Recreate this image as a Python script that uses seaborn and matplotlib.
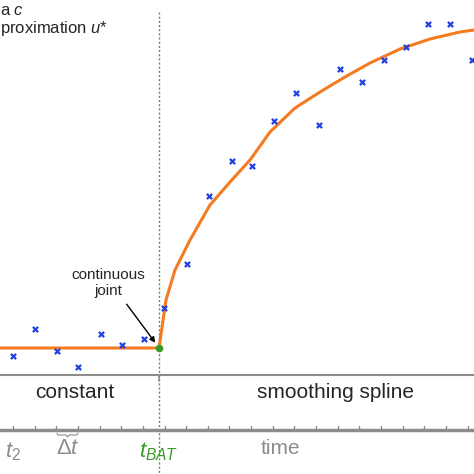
import numpy as np
import pandas as pd
import seaborn as sns
import matplotlib.pyplot as plt

# values (pixel-like units, y grows downward)
data_t = [13, 35, 57, 78, 101, 122, 144, 164, 187, 209, 232, 252, 274, 296, 319, 340, 362, 384, 406, 428, 450, 472]
data_c = [356, 329, 351, 367, 334, 345, 339, 308, 264, 196, 161, 166, 121, 93, 125, 69, 82, 60, 47, 24, 24, 60]
fit_t = [0, 159, 166, 175, 190, 210, 230, 250, 270, 295, 320, 345, 370, 400, 430, 460, 474]
fit_u = [348, 348, 300, 270, 240, 205, 182, 160, 132, 108, 92, 77, 63, 49, 39, 32, 30]
tick_pos = list(np.arange(13, 474, 21.65))
t_bat = 159

sns.set_style("white")
plt.rcParams['font.family'] = ['Liberation Sans', 'DejaVu Sans']
plt.rcParams['mathtext.fontset'] = 'custom'
plt.rcParams['mathtext.it'] = 'Liberation Sans:italic'
plt.rcParams['mathtext.rm'] = 'Liberation Sans'
fig = plt.figure(figsize=(4.74, 4.74), dpi=100)
ax = fig.add_axes([0, 0, 1, 1])

ax.plot([t_bat, t_bat], [12, 474], color="#3fa535", ls=(0, (1.5, 1.5)), lw=1)
sns.lineplot(x=fit_t, y=fit_u, color="#f47b20", lw=2.2, ax=ax, sort=False)
sns.scatterplot(x=data_t, y=data_c, marker="x", color="#1f3fe0", s=14, linewidth=1.6, ax=ax, zorder=3)
ax.plot([t_bat], [348], "o", color="#3a9a2a", ms=4.5, zorder=4)

# segment lines
ax.axhline(375, color="#8c8c8c", lw=1.5)
ax.plot([t_bat, t_bat], [375, 381], color="#8c8c8c", lw=1.2)
ax.axhline(430, color="#8c8c8c", lw=2.5)
for t in tick_pos:
    ax.plot([t, t], [426, 430], color="#8c8c8c", lw=1)

# brace under the delta-t interval
bx = [57, 58, 66, 67.5, 69, 77, 78]
by = [433, 435, 435, 437, 435, 435, 433]
ax.plot(bx, by, color="#8c8c8c", lw=0.8)

ax.text(75, 392, "constant", fontsize=15, ha="center", va="center")
ax.text(336, 392, "smoothing spline", fontsize=15, ha="center", va="center")
ax.text(13, 452, "$t_2$", fontsize=16, color="#8c8c8c", ha="center", va="center")
ax.text(68, 449, "$\\Delta t$", fontsize=16, color="#8c8c8c", ha="center", va="center")
ax.text(t_bat, 452, "$t_{BAT}$", fontsize=16, color="#3a9a2a", ha="center", va="center")
ax.text(280, 449, "time", fontsize=15, color="#8c8c8c", ha="center", va="center")

ax.text(0, 10, "a $c$", fontsize=12, ha="left", va="center")
ax.text(0, 28, "proximation $u$*", fontsize=12, ha="left", va="center")

ax.text(108, 283, "continuous\njoint", fontsize=11, ha="center", va="center", linespacing=1.1)
ax.annotate("", xy=(157, 345), xytext=(125, 302),
            arrowprops=dict(arrowstyle="-|>", color="black", lw=1, mutation_scale=8))

ax.set_xlim(0, 474)
ax.set_ylim(474, 0)
ax.axis("off")
fig.savefig("out.png", dpi=100)
